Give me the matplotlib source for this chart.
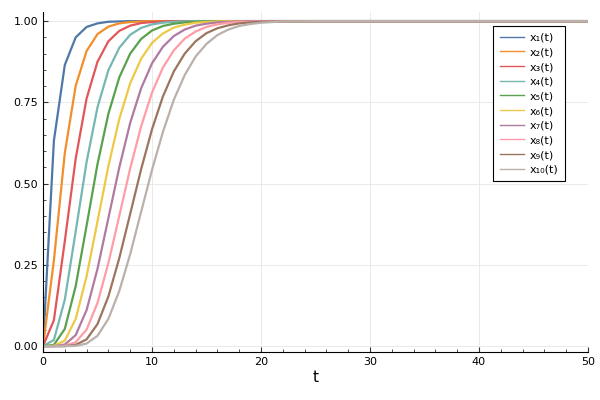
import matplotlib
matplotlib.use("Agg")
import matplotlib.pyplot as plt
from matplotlib.ticker import MultipleLocator

t = [0,1,2,3,4,5,6,7,8,9,10,11,12,13,14,15,16,17,18,19,20,22,25,50]
x1 = [0,.632,.865,.950,.982,.993,.998,.999,1,1,1,1,1,1,1,1,1,1,1,1,1,1,1,1]
x2 = [0,.264,.594,.801,.908,.960,.983,.993,.997,.999,1,1,1,1,1,1,1,1,1,1,1,1,1,1]
x3 = [0,.080,.323,.577,.762,.875,.938,.970,.986,.994,.997,.999,1,1,1,1,1,1,1,1,1,1,1,1]
x4 = [0,.019,.143,.353,.567,.735,.849,.918,.958,.979,.990,.995,.998,.999,1,1,1,1,1,1,1,1,1,1]
x5 = [0,.004,.053,.185,.371,.560,.715,.827,.900,.945,.971,.985,.992,.996,.998,.999,1,1,1,1,1,1,1,1]
x6 = [0,.001,.017,.084,.215,.384,.554,.699,.809,.884,.933,.962,.980,.989,.995,.997,.999,1,1,1,1,1,1,1]
x7 = [0,0,.005,.034,.111,.238,.394,.550,.687,.793,.870,.921,.954,.974,.986,.992,.996,.998,.999,1,1,1,1,1]
x8 = [0,0,.001,.012,.051,.133,.256,.401,.547,.676,.780,.857,.910,.946,.968,.982,.990,.995,.997,.998,.999,1,1,1]
x9 = [0,0,0,.004,.021,.068,.153,.271,.407,.544,.667,.768,.845,.900,.938,.963,.978,.987,.993,.996,.998,.999,1,1]
x10 = [0,0,0,.001,.008,.032,.084,.170,.283,.413,.542,.659,.758,.834,.891,.930,.957,.974,.985,.991,.995,.999,1,1]
labels = ["x₁(t)","x₂(t)","x₃(t)","x₄(t)","x₅(t)","x₆(t)","x₇(t)","x₈(t)","x₉(t)","x₁₀(t)"]
colors = ["#4e79a7","#f28e2b","#e15759","#76b7b2","#59a14f","#edc948","#b07aa1","#ff9da7","#9c755f","#bab0ac"]

fig = plt.figure(figsize=(6,4), dpi=100)
ax = fig.add_axes([43/600, 48/400, 545/600, 340/400])
for ys, lb, c in zip([x1,x2,x3,x4,x5,x6,x7,x8,x9,x10], labels, colors):
    ax.plot(t, ys, color=c, lw=1.6, label=lb)
ax.set_xlim(0, 50)
ax.set_ylim(-0.018, 1.028)
ax.set_xticks([0,10,20,30,40,50])
ax.set_yticks([0,0.25,0.5,0.75,1.0])
ax.set_yticklabels(["0.00","0.25","0.50","0.75","1.00"])
ax.yaxis.set_minor_locator(MultipleLocator(0.05))
ax.xaxis.set_minor_locator(MultipleLocator(2))
ax.tick_params(which="both", direction="in", labelsize=8, color="#333333")
ax.tick_params(which="minor", length=2)
ax.grid(True, color="#e6e6e6", lw=0.6)
for s in ["top","right"]:
    ax.spines[s].set_visible(False)
ax.set_xlabel("t", fontsize=11, labelpad=2)
leg = ax.legend(loc="upper right", bbox_to_anchor=(0.968, 0.975), fontsize=8, fancybox=False,
                framealpha=1, edgecolor="black", handlelength=2.2, labelspacing=0.42,
                borderpad=0.6, handletextpad=0.5)
leg.get_frame().set_linewidth(0.8)
for l in leg.get_lines():
    l.set_linewidth(1.0)
fig.savefig("out.png", dpi=100)
